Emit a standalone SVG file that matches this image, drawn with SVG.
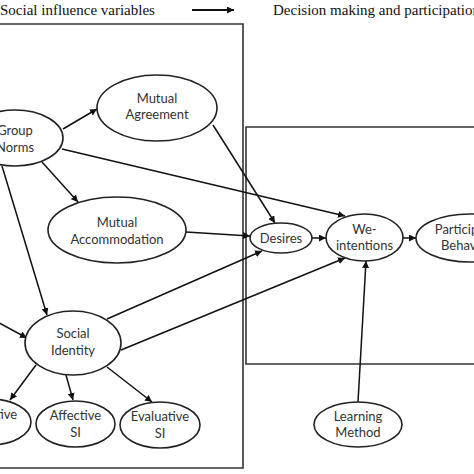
<svg xmlns="http://www.w3.org/2000/svg" width="474" height="474" viewBox="0 0 474 474">
<defs>
<marker id="ah" viewBox="0 0 10 10" refX="10" refY="5" markerWidth="7" markerHeight="7" markerUnits="userSpaceOnUse" orient="auto">
<path d="M0,0 L10,5 L0,10 Z" fill="#111"/>
</marker>
<style>
.n{fill:#fff;stroke:#222;stroke-width:1.6}
.t{font-family:Lato,"Open Sans",sans-serif;font-size:13px;fill:#333;text-anchor:middle}
.h{font-family:"Liberation Serif","Times New Roman",serif;font-size:15px;fill:#111}
.c line{stroke:#111;stroke-width:1.5;marker-end:url(#ah)}
.box{fill:none;stroke:#333;stroke-width:1.6}
</style>
</defs>
<rect width="474" height="474" fill="#fff"/>
<g id="header">
<text class="h" x="0" y="15">Social influence variables</text>
<line x1="192" y1="10" x2="234" y2="10" stroke="#111" stroke-width="2" marker-end="url(#ah)"/>
<text class="h" x="273" y="15">Decision making and participation</text>
</g>
<g id="boxes">
<polyline class="box" points="-5,24 243,24 243,468 -5,468"/>
<polyline class="box" points="480,127 246,127 246,364 480,364"/>
</g>
<g class="c" id="connectors">
<line x1="63" y1="129" x2="97" y2="109"/>
<line x1="62" y1="149" x2="345" y2="216"/>
<line x1="42" y1="162" x2="78" y2="202"/>
<line x1="2" y1="166" x2="47" y2="315"/>
<line x1="213" y1="125" x2="275" y2="223"/>
<line x1="186" y1="232" x2="250" y2="236"/>
<line x1="107" y1="319" x2="262" y2="251"/>
<line x1="121" y1="350" x2="345" y2="258"/>
<line x1="312" y1="238" x2="326" y2="238"/>
<line x1="403" y1="238" x2="416" y2="238"/>
<line x1="358" y1="402" x2="366" y2="261"/>
<line x1="36" y1="365" x2="10" y2="400"/>
<line x1="66" y1="375" x2="73" y2="400"/>
<line x1="107" y1="367" x2="152" y2="402"/>
<line x1="-10" y1="318" x2="27" y2="338"/>
</g>
<g id="group-norms"><ellipse class="n" cx="15" cy="138" rx="48" ry="28"/><text class="t" x="15" y="135">Group</text><text class="t" x="15" y="152">Norms</text></g>
<g id="mutual-agreement"><ellipse class="n" cx="157" cy="108" rx="60" ry="33"/><text class="t" x="157" y="103">Mutual</text><text class="t" x="157" y="119">Agreement</text></g>
<g id="mutual-accommodation"><ellipse class="n" cx="117" cy="230" rx="69" ry="33"/><text class="t" x="117" y="227">Mutual</text><text class="t" x="117" y="244">Accommodation</text></g>
<g id="desires"><ellipse class="n" cx="281" cy="238" rx="31" ry="15"/><text class="t" x="281" y="243">Desires</text></g>
<g id="we-intentions"><ellipse class="n" cx="364.5" cy="237.5" rx="38.5" ry="23.5"/><text class="t" x="364.5" y="234">We-</text><text class="t" x="364.5" y="250">intentions</text></g>
<g id="participation-behaviour"><ellipse class="n" cx="470" cy="238" rx="54" ry="24"/><text class="t" x="471" y="234">Participation</text><text class="t" x="470" y="250">Behaviour</text></g>
<g id="social-identity"><ellipse class="n" cx="73" cy="343" rx="48" ry="32"/><text class="t" x="73" y="338">Social</text><text class="t" x="73" y="355">Identity</text></g>
<g id="cognitive-si"><ellipse class="n" cx="-10" cy="422" rx="41" ry="23"/><text class="t" x="-10" y="419">Cognitive</text><text class="t" x="-10" y="436">SI</text></g>
<g id="affective-si"><ellipse class="n" cx="75.5" cy="424" rx="39.5" ry="23"/><text class="t" x="75.5" y="420">Affective</text><text class="t" x="75.5" y="437">SI</text></g>
<g id="evaluative-si"><ellipse class="n" cx="160" cy="425" rx="40" ry="23"/><text class="t" x="160" y="421">Evaluative</text><text class="t" x="160" y="438">SI</text></g>
<g id="learning-method"><ellipse class="n" cx="358" cy="424.5" rx="44" ry="22.5"/><text class="t" x="358" y="421">Learning</text><text class="t" x="358" y="437">Method</text></g>
</svg>
